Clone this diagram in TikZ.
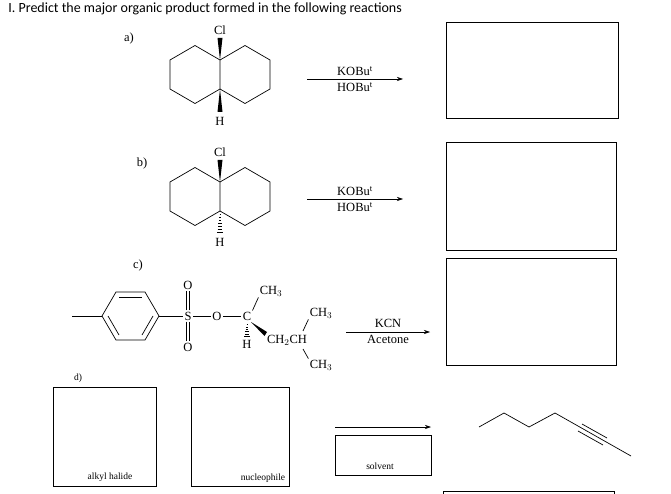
\documentclass[tikz,border=0pt]{standalone}
\usepackage{fontspec}
\setmainfont{Liberation Serif}
\newfontfamily\titlefont{Carlito}
\usetikzlibrary{arrows.meta}

\tikzset{
  chem/.style={font=\fontsize{12.5}{14}\selectfont, inner sep=1pt},
  small/.style={font=\fontsize{9.5}{11}\selectfont, inner sep=1pt},
  prodbox/.style={draw, line width=0.6pt, inner sep=0pt},
  rxn/.style={-{Stealth[length=6pt,width=4pt]}, line width=0.6pt},
}

\begin{document}
\begin{tikzpicture}[x=1pt, y=-1pt, line width=0.7pt]
  \useasboundingbox (0,0) rectangle (671,494);

  \node[anchor=west, inner sep=0pt, font=\titlefont\fontsize{14}{16}\selectfont] (title) at (8,9) {I. Predict the major organic product formed in the following reactions};

  % a)
  \node[chem] (la) at (129,38) {a)};
  \draw (220,60) -- (195,45.5) -- (170,60) -- (170,89) -- (195,103.5) -- (220,89) -- cycle;
  \draw (220,60) -- (245,45.5) -- (270,60) -- (270,89) -- (245,103.5) -- (220,89);
  \node[chem] (cla) at (220,30) {Cl};
  \node[chem] (ha) at (220,121) {H};
  \fill (220,60) -- (217.5,38) -- (222.5,38) -- cycle;
  \fill (220,89) -- (217.5,112) -- (222.5,112) -- cycle;
  \coordinate (a1) at (307,79);  \coordinate (a2) at (403,79);
  \draw[rxn] (a1) -- node[chem, above=2pt] {KOBu\textsuperscript{t}} node[chem, below=2pt] {HOBu\textsuperscript{t}} (a2);
  \node[prodbox, minimum width=172pt, minimum height=96pt] (boxa) at (532,70) {};

  % b)
  \node[chem] (lb) at (142,163) {b)};
  \draw (220,182) -- (195,167.5) -- (170,182) -- (170,211) -- (195,225.5) -- (220,211) -- cycle;
  \draw (220,182) -- (245,167.5) -- (270,182) -- (270,211) -- (245,225.5) -- (220,211);
  \node[chem] (clb) at (220,152) {Cl};
  \node[chem] (hb) at (220,242) {H};
  \fill (220,182) -- (217.5,160) -- (222.5,160) -- cycle;
  \foreach \i in {1,...,7}
    \draw[line width=0.6pt] ({220-0.4*\i},{211+3*\i}) -- ({220+0.4*\i},{211+3*\i});
  \coordinate (b1) at (307,199);  \coordinate (b2) at (403,199);
  \draw[rxn] (b1) -- node[chem, above=2pt] {KOBu\textsuperscript{t}} node[chem, below=2pt] {HOBu\textsuperscript{t}} (b2);
  \node[prodbox, minimum width=170pt, minimum height=108pt] (boxb) at (531,196) {};

  % c)
  \node[chem] (lc) at (138,265) {c)};
  \draw (72,316) -- (102,316);
  \draw (102,316) -- (116,292) -- (145,292) -- (159,316) -- (145,340) -- (116,340) -- cycle;
  \draw (119,297) -- (142,297);
  \draw (153,316) -- (142,335);
  \draw (119,335) -- (108,316);
  \node[chem] (s) at (188,316) {S};
  \node[chem] (o1) at (188,285) {O};
  \node[chem] (o2) at (188,347) {O};
  \node[chem] (o3) at (217,316) {O};
  \node[chem] (c) at (247,316) {C};
  \draw (159,316) -- (s);
  \draw ([xshift=-1.5pt]s.north) -- ([xshift=-1.5pt]o1.south);
  \draw ([xshift=1.5pt]s.north) -- ([xshift=1.5pt]o1.south);
  \draw ([xshift=-1.5pt]s.south) -- ([xshift=-1.5pt]o2.north);
  \draw ([xshift=1.5pt]s.south) -- ([xshift=1.5pt]o2.north);
  \draw (s) -- (o3);
  \draw (o3) -- (c);
  \node[chem] (me1) at (271,291) {CH$_3$};
  \node[chem] (h3) at (247,344) {H};
  \node[chem] (ch) at (287,340) {CH$_2$CH};
  \node[chem] (me2) at (321,313) {CH$_3$};
  \node[chem] (me3) at (321,365) {CH$_3$};
  \draw (c.north east) -- (me1.south west);
  \foreach \i in {1,...,6}
    \draw[line width=0.6pt] ({247-0.45*\i},{322+2.4*\i}) -- ({247+0.45*\i},{322+2.4*\i});
  \fill (251,322) -- (267,332) -- (264.5,336) -- cycle;
  \draw (303,331) -- (me2.south west);
  \draw (303,349) -- (me3.north west);
  \coordinate (c1) at (346,332);  \coordinate (c2) at (430,332);
  \draw[rxn] (c1) -- node[chem, above=3pt] {KCN} node[chem, below=2pt] {Acetone} (c2);
  \node[prodbox, minimum width=170pt, minimum height=107pt] (boxc) at (531,311.5) {};

  % d)
  \node[small] (ld) at (78,378) {d)};
  \node[prodbox, minimum width=103pt, minimum height=99pt] (boxd1) at (105,436.5) {};
  \node[small] (halide) at (110,477) {alkyl halide};
  \node[prodbox, minimum width=98pt, minimum height=99pt] (boxd2) at (240,437) {};
  \node[small] (nuc) at (263,478) {nucleophile};
  \coordinate (d1) at (335,427);  \coordinate (d2) at (431,427);
  \draw[rxn] (d1) -- (d2);
  \node[prodbox, minimum width=96pt, minimum height=40pt] (boxd3) at (383,455) {};
  \node[small] (solv) at (380,466) {solvent};
  \draw (479,427) -- (504,413) -- (529,427) -- (555,413) -- (631,456);
  \draw (582,424) -- (607,438);
  \draw (578,431) -- (603,445);
  \draw[line width=0.6pt] (443,505) -- (443,491) -- (614,491) -- (614,505);
\end{tikzpicture}
\end{document}
